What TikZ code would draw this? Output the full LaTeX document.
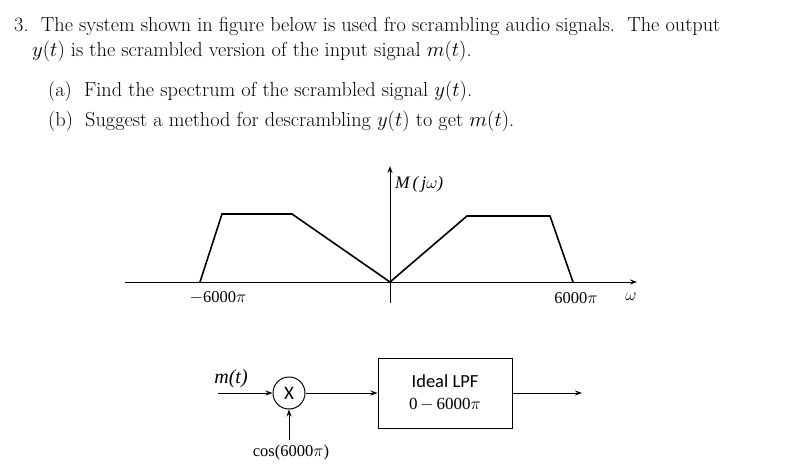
\documentclass[tikz,border=0pt]{standalone}
\usepackage{fontspec}
\newfontfamily\tms{Liberation Serif}
\newfontfamily\carl{Carlito}
\usetikzlibrary{arrows.meta}
\begin{document}
\begin{tikzpicture}[x=1pt,y=-1pt,
  txt/.style={anchor=base west,inner sep=0,font=\fontsize{20.3}{24}\selectfont},
  lbl/.style={inner sep=0,font=\tms\fontsize{16.5}{18}\selectfont},
  arr/.style={line width=1pt,-{Stealth[length=7pt,width=5pt]}},
  spec/.style={line width=1.6pt,line join=miter}]
\useasboundingbox (0,0) rectangle (800,468);
\node[txt] (l1) at (14,32) {3.\ \ The system shown in figure below is used fro scrambling audio signals.\ \ The output};
\node[txt] (l2) at (32,57) {$y(t)$ is the scrambled version of the input signal $m(t)$.};
\node[txt] (la) at (48,97) {(a)\ \ Find the spectrum of the scrambled signal $y(t)$.};
\node[txt] (lb) at (48,127) {(b)\ \ Suggest a method for descrambling $y(t)$ to get $m(t)$.};
% spectrum
\coordinate (xl) at (125,282); \coordinate (xr) at (637,282);
\coordinate (yb) at (390,303); \coordinate (yt) at (390,166);
\draw[arr,line width=0.9pt] (xl) -- (xr);
\draw[arr,line width=0.9pt] (yb) -- (yt);
\draw[spec] (200,282) -- (222,214) -- (292,214) -- (390,282) -- (467,216) -- (550,216) -- (573,282);
\node[lbl,anchor=west,font=\tms\fontsize{17.5}{19}\selectfont] (M) at (395,184) {\itshape M\,(\,j$\omega$)};
\node[lbl] (n6) at (218,298) {$-$6000$\pi$};
\node[lbl] (p6) at (576,298) {6000$\pi$};
\node[lbl,font=\fontsize{18}{19}\selectfont] (w) at (631,297) {$\omega$};
% block diagram
\node[draw,circle,line width=1pt,minimum size=32pt,inner sep=0,font=\carl\fontsize{19}{20}\selectfont] (X) at (289,393) {X};
\node[draw,line width=1pt,minimum width=134pt,minimum height=70pt,align=center,font=\fontsize{18.5}{22}\selectfont] (lpf) at (445,393) {{\carl Ideal LPF}\\[0pt]{\tms\fontsize{17}{20}\selectfont 0$\,-\,$6000$\pi$}};
\coordinate (in) at (218,393);
\coordinate (out) at (582,393);
\coordinate (cs) at (289,440);
\draw[arr] (in) -- (X);
\draw[arr] (X) -- (lpf);
\draw[arr] (lpf) -- (out);
\draw[arr] (cs) -- (X);
\node[lbl,font=\tms\itshape\fontsize{20}{22}\selectfont] (m) at (231,379) {m(t)};
\node[lbl] (c) at (291,453) {cos(6000$\pi$)};
\end{tikzpicture}
\end{document}
